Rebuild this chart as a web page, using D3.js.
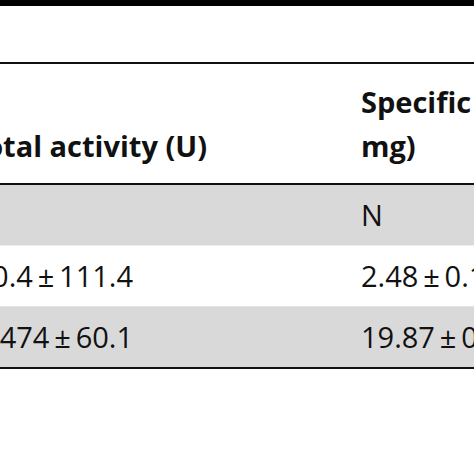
<!DOCTYPE html>
<html lang="en">
<head>
<meta charset="UTF-8">
<script src="https://d3js.org/d3.v7.min.js"></script>
<style>
  body { margin: 0; background: #fff; overflow: hidden; }
  text { font-family: "Open Sans", sans-serif; fill: #111; }
</style>
</head>
<body>
<svg width="474" height="474"></svg>
<script>
// table contents (the crop cuts both columns at the edges)
const headerCol1 = ["Total activity (U)"];
const headerCol2 = ["Specific activity (U/", "mg)"];
const col1Values = ["", "2740.4\u2009\u00B1\u2009111.4", "5474\u2009\u00B1\u200960.1"];
const col2Values = ["N", "2.48\u2009\u00B1\u20090.11", "19.87\u2009\u00B1\u20090.52"];
const rowShade = [true, false, true];

const svg = d3.select("svg");
const W = 474;
const fs = 29;

const rowY = d3.scaleBand().domain(d3.range(col1Values.length)).range([185, 367]);

svg.append("rect").attr("x", 0).attr("y", 0).attr("width", W).attr("height", 6).attr("fill", "#000");
svg.append("rect").attr("x", 0).attr("y", 62).attr("width", W).attr("height", 2).attr("fill", "#111");
svg.append("rect").attr("x", 0).attr("y", 183).attr("width", W).attr("height", 2).attr("fill", "#111");

svg.selectAll("rect.row").data(col1Values).enter().append("rect")
  .attr("class", "row")
  .attr("x", 0).attr("y", (d, i) => rowY(i))
  .attr("width", W).attr("height", rowY.bandwidth())
  .attr("fill", (d, i) => rowShade[i] ? "#d9d9d9" : "#fff");

svg.append("rect").attr("x", 0).attr("y", 367).attr("width", W).attr("height", 2).attr("fill", "#111");

// header
svg.append("text").attr("x", 207).attr("y", 157).attr("text-anchor", "end")
  .attr("font-size", fs).attr("font-weight", "bold").text(headerCol1[0]);
svg.selectAll("text.h2").data(headerCol2).enter().append("text")
  .attr("class", "h2").attr("x", 361).attr("y", (d, i) => 113 + i * 44)
  .attr("font-size", fs).attr("font-weight", "bold").text(d => d);

// body
svg.selectAll("text.c1").data(col1Values).enter().append("text")
  .attr("class", "c1").attr("x", 133).attr("text-anchor", "end")
  .attr("y", (d, i) => rowY(i) + rowY.bandwidth() / 2 + 11)
  .attr("font-size", fs).text(d => d);
svg.selectAll("text.c2").data(col2Values).enter().append("text")
  .attr("class", "c2").attr("x", 361)
  .attr("y", (d, i) => rowY(i) + rowY.bandwidth() / 2 + 11)
  .attr("font-size", fs).text(d => d);
</script>
</body>
</html>
